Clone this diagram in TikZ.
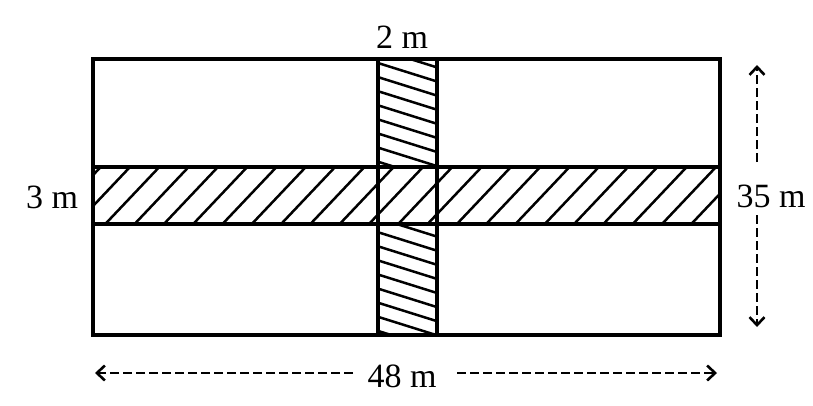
\documentclass[tikz,border=0pt]{standalone}
\usepackage{fontspec}
\setmainfont{Liberation Serif}
\usetikzlibrary{arrows.meta}
\begin{document}
\begin{tikzpicture}[x=1pt,y=-1pt,
  outline/.style={line width=3.2pt},
  hatch/.style={line width=2.5pt},
  dim/.style={line width=2.6pt, dash pattern=on 9pt off 4pt, -{Straight Barb[length=8pt,width=15pt,line width=2.6pt]}},
  lbl/.style={font=\fontsize{34}{40}\selectfont, inner sep=0pt}]
\useasboundingbox (0,0) rectangle (813,405);
% horizontal strip hatching
\begin{scope}
  \clip (93,167) rectangle (720,224);
  \foreach \k in {-2,...,23} {
    \draw[hatch] ({130+29.3*\k},167) -- ({130+29.3*\k-54},224);
  }
\end{scope}
% vertical strip hatching (upper and lower)
\begin{scope}
  \clip (378,59) rectangle (437,167) (378,224) rectangle (437,335);
  \foreach \k in {-3,...,22} {
    \draw[hatch] (378,{63+14.1*\k}) -- (437,{63+14.1*\k+18.5});
  }
\end{scope}
% outlines
\draw[outline] (93,59) rectangle (720,335);
\draw[outline] (93,167) rectangle (720,224);
\draw[outline] (378,59) rectangle (437,335);
% labels
\node[lbl] (two) at (402,37) {2 m};
\node[lbl] (three) at (52,197) {3 m};
\node[lbl] (thirtyfive) at (771,196) {35 m};
\node[lbl] (fortyeight) at (402,376) {48 m};
% dimension arrows
\coordinate (vtop) at (757,65);
\coordinate (vbot) at (757,327);
\coordinate (vtopstart) at (757,162);
\coordinate (vbotstart) at (757,215);
\coordinate (hl) at (95,373);
\coordinate (hr) at (717,373);
\coordinate (hlstart) at (353,373);
\coordinate (hrstart) at (457,373);
\draw[dim] (vtopstart) -- (vtop);
\draw[dim] (vbotstart) -- (vbot);
\draw[dim] (hlstart) -- (hl);
\draw[dim] (hrstart) -- (hr);
\end{tikzpicture}
\end{document}
